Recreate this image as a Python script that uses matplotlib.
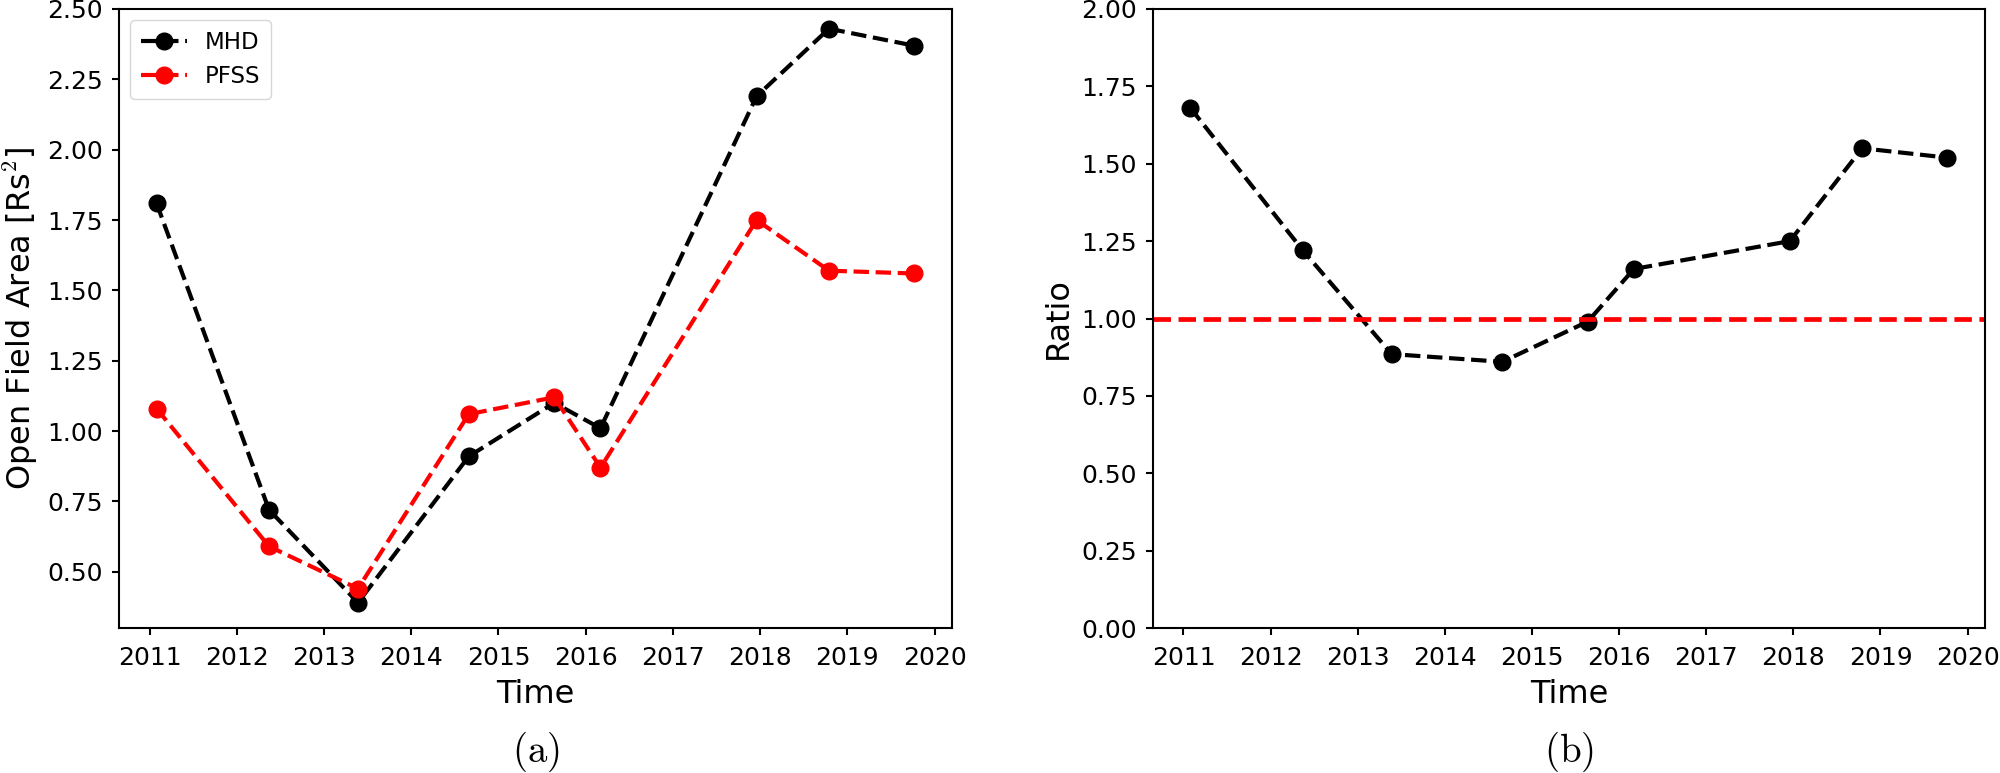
import matplotlib
matplotlib.use("Agg")
import matplotlib.pyplot as plt
from matplotlib.ticker import MultipleLocator, FormatStrFormatter

plt.rcParams['mathtext.fontset'] = 'cm'

# время наблюдений, годы
years = [2011.08, 2012.37, 2013.39, 2014.66, 2015.64, 2016.17, 2017.96, 2018.79, 2019.76]
mhd = [1.81, 0.72, 0.39, 0.91, 1.10, 1.01, 2.19, 2.43, 2.37]
pfss = [1.08, 0.59, 0.44, 1.06, 1.12, 0.87, 1.75, 1.57, 1.56]
ratio = [1.68, 1.22, 0.885, 0.86, 0.99, 1.16, 1.25, 1.55, 1.52]

W, H = 2000, 773
fig = plt.figure(figsize=[W / 100, H / 100], dpi=100)

ax1 = fig.add_axes([119 / W, 1 - 628 / H, (952 - 119) / W, (628 - 9) / H])
ax2 = fig.add_axes([1153 / W, 1 - 628 / H, (1985 - 1153) / W, (628 - 9) / H])

ax1.plot(years, mhd, '--o', color='black', lw=3, ms=12, label='MHD')
ax1.plot(years, pfss, '--o', color='red', lw=3, ms=12, label='PFSS')
ax1.set_ylim(0.3, 2.5)
ax1.yaxis.set_major_locator(MultipleLocator(0.25))
ax1.set_ylabel("Open Field Area [Rs$^2$]", fontsize=23, labelpad=5)
ax1.legend(loc='upper left', fontsize=16.5, borderpad=0.45, handlelength=2.0)

ax2.plot(years, ratio, '--o', color='black', lw=3, ms=12)
ax2.axhline(1.0, color='red', ls='--', lw=3.4)
ax2.set_ylim(0, 2)
ax2.yaxis.set_major_locator(MultipleLocator(0.25))
ax2.set_ylabel("Ratio", fontsize=23, labelpad=5)

for ax in (ax1, ax2):
    ax.set_xlim(2010.65, 2020.2)
    ax.xaxis.set_major_locator(MultipleLocator(1))
    ax.xaxis.set_major_formatter(FormatStrFormatter('%d'))
    ax.yaxis.set_major_formatter(FormatStrFormatter('%.2f'))
    ax.set_xlabel("Time", fontsize=23, labelpad=6)
    ax.tick_params(labelsize=18, width=1.5, length=5.3, pad=6.5)
    ax.tick_params(axis='x', pad=8)
    for s in ax.spines.values():
        s.set_linewidth(1.5)

fig.text((119 + 952) / 2 / W, 1 - 752 / H, r'$\mathrm{(a)}$', fontsize=28, ha='center', va='center')
fig.text((1153 + 1985) / 2 / W, 1 - 752 / H, r'$\mathrm{(b)}$', fontsize=28, ha='center', va='center')

fig.savefig('out.png', dpi=100)
